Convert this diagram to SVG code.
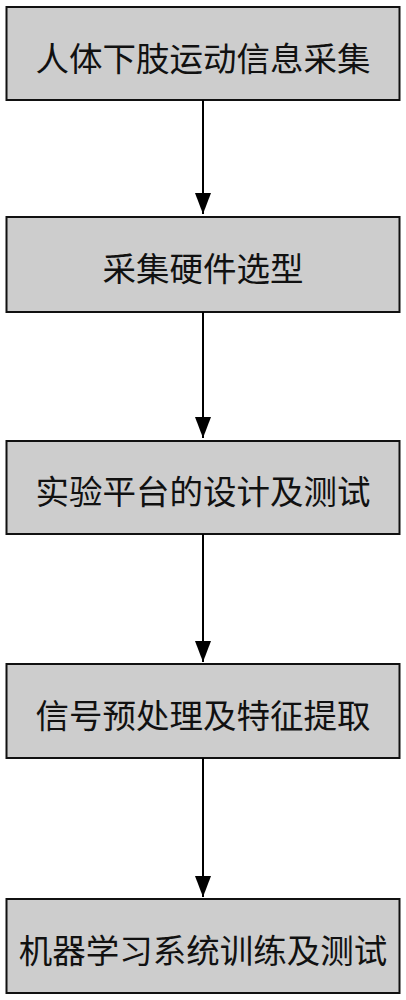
<svg xmlns="http://www.w3.org/2000/svg" width="406" height="1000" viewBox="0 0 406 1000">
<style>
.box{fill:#cdcdcd;stroke:#111;stroke-width:2}
.lbl{font-family:"Noto Sans CJK SC","Liberation Sans",sans-serif;font-size:33.5px;fill:#111;text-anchor:middle;dominant-baseline:central}
.con{stroke:#000;stroke-width:2;fill:none}
</style>
<defs>
<marker id="ah" markerUnits="userSpaceOnUse" markerWidth="22" markerHeight="18" refX="21" refY="8" orient="auto">
<path d="M0,0 L21,8 L0,16 Z" fill="#000"/>
</marker>
</defs>
<rect width="406" height="1000" fill="#fff"/>
<g id="n1"><rect class="box" x="6.5" y="7" width="393" height="93"/><text class="lbl" x="203" y="56">人体下肢运动信息采集</text></g>
<g id="n2"><rect class="box" x="6.5" y="217" width="393" height="95"/><text class="lbl" x="203" y="266">采集硬件选型</text></g>
<g id="n3"><rect class="box" x="6.5" y="441" width="393" height="93"/><text class="lbl" x="203" y="489">实验平台的设计及测试</text></g>
<g id="n4"><rect class="box" x="6.5" y="664" width="393" height="94"/><text class="lbl" x="203" y="713">信号预处理及特征提取</text></g>
<g id="n5"><rect class="box" x="6.5" y="899" width="393" height="94"/><text class="lbl" x="203" y="948">机器学习系统训练及测试</text></g>
<g id="connectors">
<line class="con" x1="203" y1="100" x2="203" y2="214" marker-end="url(#ah)"/>
<line class="con" x1="203" y1="312" x2="203" y2="438" marker-end="url(#ah)"/>
<line class="con" x1="203" y1="534" x2="203" y2="662" marker-end="url(#ah)"/>
<line class="con" x1="203" y1="758" x2="203" y2="897" marker-end="url(#ah)"/>
</g>
</svg>
